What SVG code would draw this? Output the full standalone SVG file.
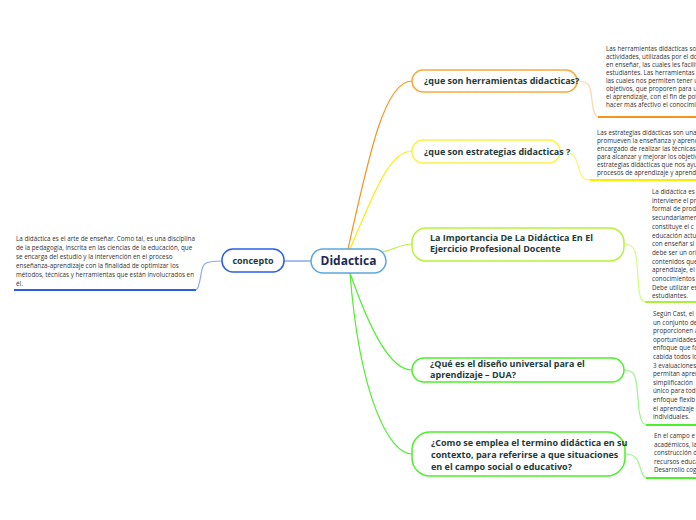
<svg xmlns="http://www.w3.org/2000/svg" width="696" height="520" viewBox="0 0 696 520">
<style>
.n{fill:#fff;stroke-width:1.5}
.t{font-family:"Open Sans","Noto Sans",sans-serif;font-weight:bold;fill:#1d3b3a;font-size:9px}
.s{font-family:"Open Sans","Noto Sans",sans-serif;fill:#333;font-size:6.3px}
.c{fill:none;stroke-width:1.2}
.u{fill:none;stroke-width:2}
</style>
<rect width="696" height="520" fill="#fff"/>
<g id="connectors">
<path class="c" stroke="#f7931e" d="M348,249 C370,150 385,81 412,81"/>
<path class="c" stroke="#ffea00" d="M350,249 C375,190 390,151 412,151"/>
<path class="c" stroke="#b5f23a" d="M378,253 C395,250 400,244 412,244"/>
<path class="c" stroke="#4cf02a" stroke-width="2" d="M350,273 C370,330 390,370 412,370"/>
<path class="c" stroke="#4cf02a" stroke-width="2" d="M350,273 C360,400 390,454 412,454"/>
<path class="c" stroke="#6a95f0" d="M284,261 L311,261"/>
<path class="c" stroke="#8aa8f5" d="M222,261 C200,261 203,265 200,280 C198,288 198,290 194,290"/>
<path class="u" stroke="#2b5ce8" d="M14,290 L196,290"/>
<path class="c" stroke="#fcd6a8" d="M577,81 C593,81 590,90 593,108 C595,115 596,117 600,117"/>
<path class="u" stroke="#f7931e" d="M598,117 L696,117"/>
<path class="c" stroke="#fff27a" d="M560,151 C575,151 576,158 580,172 C582,178 584,180 592,180"/>
<path class="u" stroke="#ffea00" d="M590,180 L696,180"/>
<path class="c" stroke="#d4fa80" d="M624,244 C638,244 636,255 639,290 C640,299 642,302 648,302"/>
<path class="u" stroke="#a8f03a" d="M645,302 L696,302"/>
<path class="c" stroke="#9af58a" d="M624,370 C638,370 636,380 639,410 C641,422 642,425 650,425"/>
<path class="u" stroke="#4cf02a" d="M646,425 L696,425"/>
<path class="c" stroke="#9af58a" d="M625,454 C638,454 638,462 641,470 C643,477 645,478 650,478"/>
<path class="u" stroke="#4cf02a" d="M646,478 L696,478"/>
</g>
<g id="didactica"><rect class="n" stroke="#5aa8e0" x="311" y="249" width="75" height="24" rx="12"/><text class="t" x="348.5" y="265" text-anchor="middle" style="font-size:12px;fill:#1b2a55">Didactica</text></g>
<g id="concepto"><rect class="n" stroke="#2b5ce8" x="222" y="249" width="62" height="23" rx="11"/><text class="t" x="253" y="264" text-anchor="middle">concepto</text></g>
<g id="herramientas"><rect class="n" stroke="#f7a940" x="412" y="70" width="165" height="22" rx="11"/><text class="t" x="424" y="84">¿que son herramientas didacticas?</text></g>
<g id="estrategias"><rect class="n" stroke="#fff04a" x="412" y="140" width="148" height="23" rx="11"/><text class="t" x="424" y="155">¿que son estrategias didacticas ?</text></g>
<g id="importancia"><rect class="n" stroke="#b5f23a" x="412" y="228" width="212" height="33" rx="14"/><text class="t" x="430" y="241">La Importancia De La Didáctica En El</text><text class="t" x="430" y="252">Ejercicio Profesional Docente</text></g>
<g id="dua"><rect class="n" stroke="#4cf02a" x="412" y="358" width="212" height="24" rx="12"/><text class="t" x="430" y="367">¿Qué es el diseño universal para el</text><text class="t" x="430" y="378">aprendizaje – DUA?</text></g>
<g id="como"><rect class="n" stroke="#4cf02a" x="412" y="432" width="213" height="44" rx="18"/><text class="t" x="431" y="446">¿Como se emplea el termino didáctica en su</text><text class="t" x="431" y="458">contexto, para referirse a que situaciones</text><text class="t" x="431" y="470">en el campo social o educativo?</text></g>
<g id="notes">
<text class="s" x="16" y="241">La didáctica es el arte de enseñar. Como tal, es una disciplina</text>
<text class="s" x="16" y="250">de la pedagogía, inscrita en las ciencias de la educación, que</text>
<text class="s" x="16" y="259">se encarga del estudio y la intervención en el proceso</text>
<text class="s" x="16" y="268">enseñanza-aprendizaje con la finalidad de optimizar los</text>
<text class="s" x="16" y="277">métodos, técnicas y herramientas que están involucrados en</text>
<text class="s" x="16" y="286">él.</text>
<text class="s" x="606" y="51">Las herramientas didácticas son</text>
<text class="s" x="606" y="59">actividades, utilizadas por el doc</text>
<text class="s" x="606" y="67">en enseñar, las cuales les facilit</text>
<text class="s" x="606" y="75">estudiantes. Las herramientas d</text>
<text class="s" x="606" y="83">las cuales nos permiten tener u</text>
<text class="s" x="606" y="91">objetivos, que proporen para un</text>
<text class="s" x="606" y="99">el aprendizaje, con el fin de pote</text>
<text class="s" x="606" y="107">hacer más afectivo el conocimie</text>
<text class="s" x="597" y="135">Las estrategias didácticas son una s</text>
<text class="s" x="597" y="143">promueven la enseñanza y aprendi</text>
<text class="s" x="597" y="151">encargado de realizar las técnicas y</text>
<text class="s" x="597" y="159">para alcanzar y mejorar los objetiv</text>
<text class="s" x="597" y="167">estrategias didácticas que nos ayud</text>
<text class="s" x="597" y="175">procesos de aprendizaje y aprendi</text>
<text class="s" x="652" y="194">La didáctica es</text>
<text class="s" x="652" y="202.7">interviene el pr</text>
<text class="s" x="652" y="211.4">formal de prod</text>
<text class="s" x="652" y="220.1">secundariamen</text>
<text class="s" x="652" y="228.8">constituye el c</text>
<text class="s" x="652" y="237.5">educación actu</text>
<text class="s" x="652" y="246.2">con enseñar si</text>
<text class="s" x="652" y="254.9">debe ser un ori</text>
<text class="s" x="652" y="263.6">contenidos que</text>
<text class="s" x="652" y="272.3">aprendizaje, el</text>
<text class="s" x="652" y="281">conocimientos</text>
<text class="s" x="652" y="289.7">Debe utilizar es</text>
<text class="s" x="652" y="298.4">estudiantes.</text>
<text class="s" x="653" y="316">Según Cast, el</text>
<text class="s" x="653" y="324.6">un conjunto de</text>
<text class="s" x="653" y="333.2">proporcionen a</text>
<text class="s" x="653" y="341.8">oportunidades</text>
<text class="s" x="653" y="350.4">enfoque que fa</text>
<text class="s" x="653" y="359">cabida todos lo</text>
<text class="s" x="653" y="367.6">3 evaluaciones</text>
<text class="s" x="653" y="376.2">permitan apren</text>
<text class="s" x="653" y="384.8">simplificación</text>
<text class="s" x="653" y="393.4">único para todo</text>
<text class="s" x="653" y="402">enfoque flexib</text>
<text class="s" x="653" y="410.6">el aprendizaje c</text>
<text class="s" x="653" y="419.2">individuales.</text>
<text class="s" x="654" y="438">En el campo e</text>
<text class="s" x="654" y="446.5">académicos, la</text>
<text class="s" x="654" y="455">construcción d</text>
<text class="s" x="654" y="463.5">recursos educa</text>
<text class="s" x="654" y="472">Desarrollo cog</text>
</g>
</svg>
